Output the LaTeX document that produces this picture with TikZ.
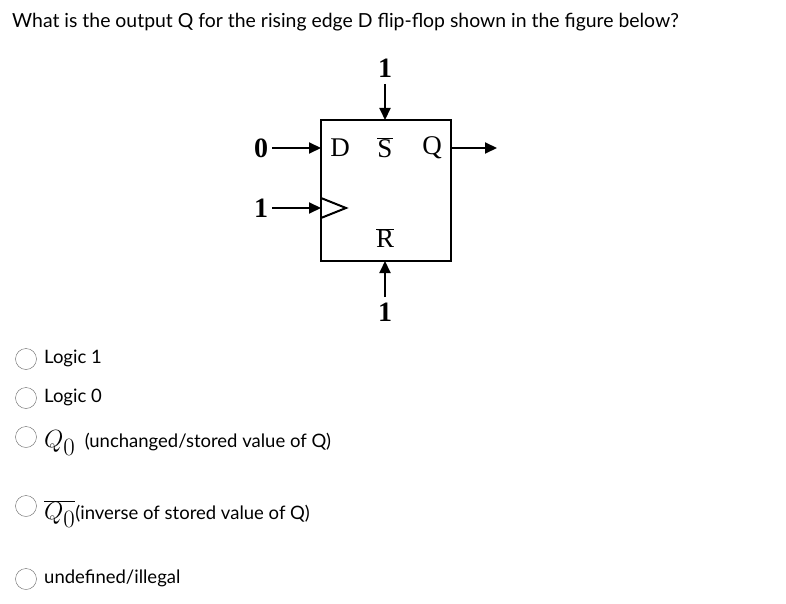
\documentclass[tikz,border=0pt]{standalone}
\usepackage{fontspec}
\setmainfont{Lato}
\newfontfamily\tms{Liberation Serif}
\usetikzlibrary{arrows.meta}
\begin{document}
\begin{tikzpicture}[x=1pt,y=-1pt,
  txt/.style={anchor=west,inner sep=0pt,font=\fontsize{18.5}{22}\selectfont},
  radio/.style={circle,draw=gray!80!black,fill=white,minimum size=21pt,inner sep=0pt},
  lab/.style={inner sep=0pt,font=\tms\fontsize{27}{30}\selectfont},
  blab/.style={inner sep=0pt,font=\tms\bfseries\fontsize{28}{30}\selectfont},
  sig/.style={line width=2pt,-{Triangle[length=12pt,width=11pt]}}]
\useasboundingbox (0,0) rectangle (786,604);
\node[anchor=west,inner sep=0pt,font=\fontsize{19.4}{23}\selectfont] (title) at (12,22) {What is the output Q for the rising edge D flip-flop shown in the figure below?};
\node[draw,line width=2pt,minimum width=130pt,minimum height=141pt,inner sep=0pt] (ff) at (386,190.5) {};
\node[lab] (D) at (340,148) {D};
\node[lab] (S) at (385,148) {$\overline{\hbox{S}}$};
\node[lab] (Q) at (432,148) {Q};
\node[lab] (R) at (385,238) {$\overline{\hbox{R}}$};
\draw[line width=2pt] (321,198) -- (346,208) -- (321,218);
\node[blab] (one1) at (385,68) {1};
\node[blab] (zero) at (261,148) {0};
\node[blab] (one2) at (261,208) {1};
\node[blab] (one3) at (385,312) {1};
\coordinate (qout) at (497,148);
\draw[sig] (385,84) -- (385,120);
\draw[sig] (272,148) -- (321,148);
\draw[sig] (272,208) -- (321,208);
\draw[sig] (385,297) -- (385,261);
\draw[sig] (451,148) -- (qout);
\node[radio] (r1) at (26,359) {};
\node[txt] (t1) at (44,358) {Logic 1};
\node[radio] (r2) at (26,398) {};
\node[txt] (t2) at (44,397) {Logic 0};
\node[radio] (r3) at (26,437) {};
\node[txt] (t3) at (44,443) {\fontsize{37}{40}\selectfont$Q_0$ \fontsize{18.5}{22}\selectfont(unchanged/stored value of Q)};
\node[radio] (r4) at (26,506) {};
\node[txt] (t4) at (44,514) {\fontsize{37}{40}\selectfont$\overline{Q_0}$\fontsize{18.5}{22}\selectfont(inverse of stored value of Q)};
\node[radio] (r5) at (26,579) {};
\node[txt] (t5) at (44,578) {undefined/illegal};
\end{tikzpicture}
\end{document}
